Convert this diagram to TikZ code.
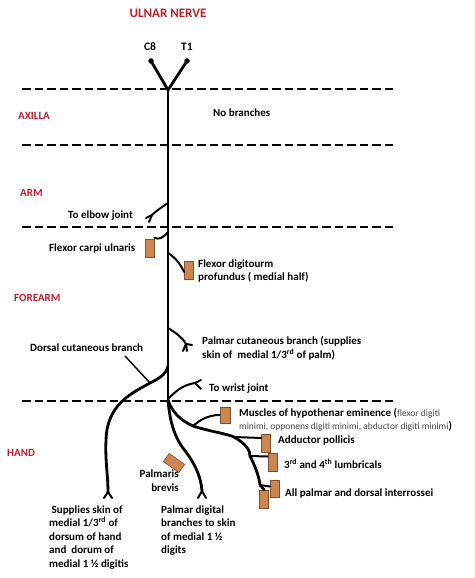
\documentclass[tikz,border=0pt]{standalone}
\usepackage{fontspec}
\setmainfont{Carlito}
\usetikzlibrary{calc}
\definecolor{lblred}{RGB}{190,30,40}
\definecolor{musc}{RGB}{205,134,80}
\definecolor{muscd}{RGB}{130,80,40}
\definecolor{smallgray}{RGB}{70,70,70}
\begin{document}
\begin{tikzpicture}[x=1pt,y=-1pt,
 nerve/.style={line width=2.8pt, line cap=round, line join=round},
 twig/.style={line width=2pt, line cap=round, line join=round},
 leader/.style={line width=1.4pt},
 level/.style={line width=2pt, dash pattern=on 8.5pt off 4pt},
 region/.style={font=\fontsize{11}{12}\selectfont\bfseries, text=lblred, inner sep=0, anchor=west},
 lbl/.style={font=\fontsize{11}{13.5}\selectfont\bfseries, inner sep=0, anchor=west, align=left},
 muscle/.style={draw=muscd, fill=musc, line width=0.6pt, minimum width=9pt, minimum height=18pt, inner sep=0},
 rootdot/.style={circle, fill=black, minimum size=5.5pt, inner sep=0}
]
\useasboundingbox (0,0) rectangle (474,578);
\fill[white] (0,0) rectangle (474,578);

% title
\node[font=\fontsize{13}{15}\selectfont\bfseries, text=lblred, inner sep=0] (title) at (168,13) {ULNAR NERVE};

% level lines
\draw[level] (22,89) -- (395,89);
\draw[level] (22,145) -- (395,145);
\draw[level] (22,227) -- (395,227);
\draw[level] (22,401) -- (395,401);

% region labels
\node[region] (axilla) at (18,116) {AXILLA};
\node[region] (arm) at (20,193) {ARM};
\node[region] (forearm) at (14,298) {FOREARM};
\node[region] (hand) at (7,453) {HAND};

% roots
\node[font=\fontsize{11.5}{13}\selectfont\bfseries, inner sep=0] (c8) at (150,47) {C8};
\node[font=\fontsize{11.5}{13}\selectfont\bfseries, inner sep=0] (t1) at (187,47) {T1};
\node[rootdot] (c8d) at (151,61) {};
\node[rootdot] (t1d) at (187,61) {};
\coordinate (J) at (168,90);
\coordinate (E) at (168,400);
\draw[nerve] (c8d.center) -- (J) -- (t1d.center);
\draw[nerve] (J) -- (E);

% axilla
\node[lbl] (nob) at (213,113) {No branches};

% elbow
\coordinate (bElb) at (168,203);
\coordinate (fElb) at (152,215);
\draw[twig] (bElb) .. controls (162,207) and (156,211) .. (fElb);
\coordinate (fElb1) at (146,218);
\coordinate (fElb2) at (149,222);
\draw[twig] (fElb) -- (fElb1);
\draw[twig] (fElb) -- (fElb2);
\node[lbl] (elbow) at (68,216) {To elbow joint};

% FCU
\node[muscle] (fcu) at (149.5,248) {};
\coordinate (bFcu) at (168,232);
\draw[twig] (bFcu) .. controls (163,238) and (159,240) .. ($(fcu.north east)+(0,-1)$);
\node[lbl] (fcul) at (49,249) {Flexor carpi ulnaris};

% FDP
\node[muscle] (fdp) at (189,270) {};
\coordinate (bFdp) at (168,253);
\draw[twig] (bFdp) .. controls (176,258) and (180,264) .. ($(fdp.west)+(0,2)$);
\node[lbl] (fdpl) at (198,271) {Flexor digitourm\\profundus ( medial half)};

% palmar cutaneous
\coordinate (bPc) at (168,328);
\coordinate (fPc) at (186,344);
\draw[twig] (bPc) .. controls (176,333) and (182,337) .. (fPc);
\coordinate (fPc1) at (183,351);
\coordinate (fPc2) at (187,351);
\coordinate (fPc3) at (192,345);
\draw[twig] (fPc) -- (fPc1);
\draw[twig] (fPc) -- (fPc2);
\draw[twig] (fPc) -- (fPc3);
\node[lbl] (pcl) at (202,348.5) {Palmar cutaneous branch (supplies\\skin of\ \ medial 1/3\textsuperscript{rd} of palm)};

% dorsal cutaneous
\coordinate (bDc) at (168,366);
\coordinate (mDc) at (150,383);
\coordinate (fDc) at (108,492);
\draw[nerve] (bDc) .. controls (166,375) and (158,379) .. (mDc)
  .. controls (130,394) and (107,405) .. (106,440)
  .. controls (105,460) and (108,475) .. (fDc);
\coordinate (fDc1) at (104,498);
\coordinate (fDc2) at (112,498);
\draw[twig] (fDc) -- (fDc1);
\draw[twig] (fDc) -- (fDc2);
\node[lbl] (dcl) at (30,348) {Dorsal cutaneous branch};
\coordinate (ldc) at (125,356);
\draw[leader] (ldc) -- (mDc);
\node[lbl] (dcs) at (49,537.5) {\ Supplies skin of\\medial 1/3\textsuperscript{rd} of\\dorsum of hand\\and\ \ dorum of\\medial 1 ½ digitis};

% wrist
\coordinate (bWr) at (168,399);
\coordinate (fWr) at (195,383);
\draw[twig] (bWr) .. controls (175,392) and (182,385) .. (fWr);
\coordinate (fWr1) at (201,380);
\coordinate (fWr2) at (201,389);
\draw[twig] (fWr) -- (fWr1);
\draw[twig] (fWr) -- (fWr2);
\node[lbl] (wrl) at (209,389) {To wrist joint};

% superficial branch
\coordinate (fSp) at (202,491);
\draw[nerve] (E) .. controls (170,425) and (176,440) .. (186,452)
  .. controls (195,464) and (201,477) .. (fSp);
\coordinate (fSp1) at (198,498);
\coordinate (fSp2) at (206,498);
\draw[twig] (fSp) -- (fSp1);
\draw[twig] (fSp) -- (fSp2);
\node[muscle, minimum width=19pt, minimum height=10pt, rotate=-35] (pb) at (174,463) {};
\node[lbl, anchor=east, align=right] (pbl) at (179,480.5) {Palmaris\\brevis};
\node[lbl] (pdl) at (161,530.5) {Palmar digital\\branches to skin\\of medial 1 ½\\digits};

% deep branch
\node[muscle, minimum width=10pt, minimum height=16pt] (hyp) at (225,415) {};
\node[muscle] (addp) at (266,443) {};
\node[muscle] (lumb) at (272.5,462) {};
\node[muscle, minimum height=17pt] (intA) at (275,488.5) {};
\node[muscle] (intB) at (264,499) {};
\coordinate (bHyp) at (193,426);
\coordinate (bAdd) at (234,437);
\coordinate (bLum) at (250,456);
\coordinate (bInt) at (260,485);
\draw[nerve] (E) .. controls (172,412) and (180,420) .. (bHyp)
  .. controls (208,431) and (228,434) .. (bAdd)
  .. controls (246,444) and (250,450) .. (bLum)
  .. controls (255,466) and (259,476) .. (bInt)
  -- (intB.north);
\draw[twig] (bHyp) .. controls (200,420) and (208,415) .. (hyp.west);
\draw[twig] (bAdd) -- ($(addp.west)+(0,-5)$);
\draw[twig] (bLum) -- ($(lumb.west)+(0,-5.5)$);
\draw[twig] (bInt) -- ($(intA.west)+(0,-2)$);

\node[lbl] (hypl) at (239,419.5) {Muscles of hypothenar eminence ({\fontsize{9.5}{13.5}\selectfont\mdseries\color{smallgray}flexor digiti}\\{\fontsize{9.5}{13.5}\selectfont\mdseries\color{smallgray}minimi, opponens digiti minimi, abductor digiti minimi})};
\node[lbl] (addl) at (278,441) {Adductor pollicis};
\node[lbl] (luml) at (284,464) {3\textsuperscript{rd} and 4\textsuperscript{th} lumbricals};
\node[lbl] (intl) at (285,493) {All palmar and dorsal interrossei};
\end{tikzpicture}
\end{document}
